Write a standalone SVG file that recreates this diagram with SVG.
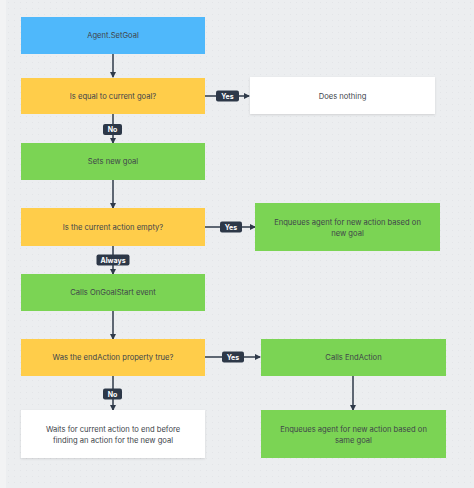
<svg xmlns="http://www.w3.org/2000/svg" width="474" height="488" viewBox="0 0 474 488">
<defs>
<pattern id="dots" width="6" height="6" patternUnits="userSpaceOnUse">
<rect x="2" y="2" width="1" height="1" fill="#e3e5e8"/>
</pattern>
<marker id="ah" markerWidth="6" markerHeight="6" refX="5" refY="3" orient="auto" markerUnits="userSpaceOnUse">
<path d="M0,0 L6,3 L0,6 Z" fill="#2f3a4a"/>
</marker>
<filter id="sh" x="-5%" y="-10%" width="110%" height="130%">
<feDropShadow dx="0" dy="1" stdDeviation="0.8" flood-color="#000" flood-opacity="0.12"/>
</filter>
</defs>
<style>
.t{font-family:Inter,"Liberation Sans",sans-serif;font-size:7.6px;fill:#40444a;text-anchor:middle;dominant-baseline:central}
.lb{fill:#2d3848}
.lt{font-family:Inter,"Liberation Sans",sans-serif;font-size:7px;font-weight:bold;fill:#fff;text-anchor:middle;dominant-baseline:central}
.c{stroke:#2f3a4a;stroke-width:1.5;fill:none}
.blue{fill:#4fb8fb}
.yel{fill:#ffcd4a}
.grn{fill:#7bd454}
.wht{fill:#fff}
</style>
<rect width="474" height="488" fill="#eceef0"/>
<rect x="6" width="468" height="488" fill="url(#dots)"/>
<rect width="6" height="488" fill="#f2f3f4"/>

<g id="connectors">
<line class="c" x1="113" y1="54" x2="113" y2="77" marker-end="url(#ah)"/>
<line class="c" x1="205" y1="96" x2="249" y2="96" marker-end="url(#ah)"/>
<line class="c" x1="113" y1="114" x2="113" y2="143" marker-end="url(#ah)"/>
<line class="c" x1="113" y1="180" x2="113" y2="208" marker-end="url(#ah)"/>
<line class="c" x1="205" y1="227" x2="255" y2="227" marker-end="url(#ah)"/>
<line class="c" x1="113" y1="246" x2="113" y2="274" marker-end="url(#ah)"/>
<line class="c" x1="113" y1="311" x2="113" y2="339" marker-end="url(#ah)"/>
<line class="c" x1="205" y1="357" x2="260" y2="357" marker-end="url(#ah)"/>
<line class="c" x1="113" y1="376" x2="113" y2="410" marker-end="url(#ah)"/>
<line class="c" x1="353" y1="376" x2="353" y2="410" marker-end="url(#ah)"/>
<rect class="lb" x="216" y="90.5" width="23" height="11" rx="2"/>
<text class="lt" x="227.5" y="96">Yes</text>
<rect class="lb" x="103" y="124" width="19" height="11" rx="2"/>
<text class="lt" x="112.5" y="129.5">No</text>
<rect class="lb" x="220" y="221.5" width="22" height="11" rx="2"/>
<text class="lt" x="231" y="227">Yes</text>
<rect class="lb" x="96.5" y="254.5" width="33" height="11" rx="2"/>
<text class="lt" x="113" y="260">Always</text>
<rect class="lb" x="222" y="351.5" width="22" height="11" rx="2"/>
<text class="lt" x="233" y="357">Yes</text>
<rect class="lb" x="103" y="388.5" width="19" height="11" rx="2"/>
<text class="lt" x="112.5" y="394">No</text>
</g>

<g id="n1"><rect class="blue" x="21" y="17" width="184" height="37"/><text class="t" x="113" y="35.5">Agent.SetGoal</text></g>
<g id="n2"><rect class="yel" x="21" y="78" width="184" height="36"/><text class="t" x="113" y="96">Is equal to current goal?</text></g>
<g id="n3"><rect class="wht" x="250" y="77" width="185" height="37" filter="url(#sh)"/><text class="t" x="342.5" y="96">Does nothing</text></g>
<g id="n4"><rect class="grn" x="21" y="143" width="184" height="37"/><text class="t" x="113" y="161.5">Sets new goal</text></g>
<g id="n5"><rect class="yel" x="21" y="208" width="184" height="38"/><text class="t" x="113" y="227">Is the current action empty?</text></g>
<g id="n6"><rect class="grn" x="255" y="203" width="185" height="48"/><text class="t" x="347.5" y="222">Enqueues agent for new action based on</text><text class="t" x="347.5" y="233">new goal</text></g>
<g id="n7"><rect class="grn" x="21" y="274" width="184" height="37"/><text class="t" x="113" y="292">Calls OnGoalStart event</text></g>
<g id="n8"><rect class="yel" x="21" y="339" width="184" height="37"/><text class="t" x="113" y="357.5">Was the endAction property true?</text></g>
<g id="n9"><rect class="grn" x="261" y="339" width="185" height="37"/><text class="t" x="353.5" y="357.5">Calls EndAction</text></g>
<g id="n10"><rect class="wht" x="21" y="410" width="184" height="48" filter="url(#sh)"/><text class="t" x="113" y="429">Waits for current action to end before</text><text class="t" x="113" y="440">finding an action for the new goal</text></g>
<g id="n11"><rect class="grn" x="261" y="410" width="185" height="48"/><text class="t" x="353.5" y="429">Enqueues agent for new action based on</text><text class="t" x="353.5" y="440">same goal</text></g>
</svg>
